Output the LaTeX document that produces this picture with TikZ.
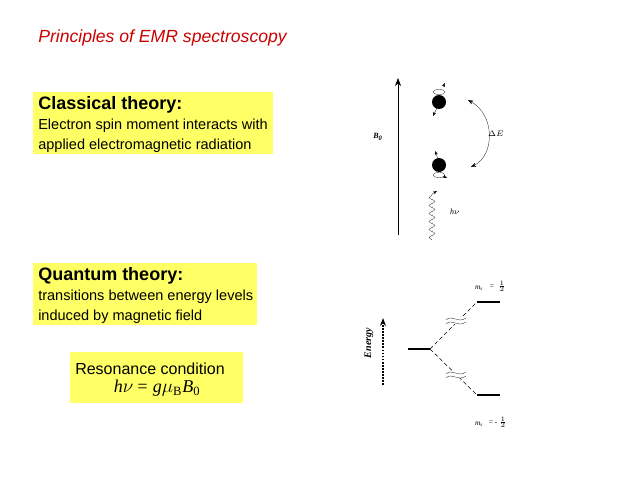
\documentclass[tikz,border=0pt]{standalone}
\usepackage{fontspec}
\setsansfont{Liberation Sans}
\setmainfont{Liberation Serif}
\usetikzlibrary{decorations.pathmorphing,arrows.meta}
\definecolor{ybox}{HTML}{FFFF66}
\definecolor{ttl}{HTML}{CC0000}
\begin{document}
\begin{tikzpicture}[x=0.75pt,y=-0.75pt,
  lvl/.style={line width=1.2pt},
  dsh/.style={densely dashed,thin},
  sm/.style={font=\fontsize{5.5}{6}\selectfont,inner sep=0.5pt},
  ball/.style={circle,fill=black,minimum size=10.5pt,inner sep=0pt}]
\useasboundingbox (0,0) rectangle (638,478);
\node[anchor=west,inner sep=0pt,text=ttl,font=\sffamily\itshape\fontsize{13.2}{15}\selectfont] (title) at (38,38) {Principles of EMR spectroscopy};
% classical
\fill[ybox] (33,92) rectangle (273,154);
\node[anchor=north west,align=left,inner sep=0pt,font=\sffamily\fontsize{10.9}{15}\selectfont] (cl) at (38,96)
 {{\bfseries\fontsize{13.5}{16}\selectfont Classical theory:}\\Electron spin moment interacts with\\applied electromagnetic radiation};
% quantum
\fill[ybox] (33,263) rectangle (257,325);
\node[anchor=north west,align=left,inner sep=0pt,font=\sffamily\fontsize{10.9}{15}\selectfont] (qu) at (38,267)
 {{\bfseries\fontsize{13.5}{16}\selectfont Quantum theory:}\\transitions between energy levels\\induced by magnetic field};
% resonance
\fill[ybox] (70,352) rectangle (243,403);
\node[font=\sffamily\fontsize{12}{14}\selectfont] (rc) at (150,369) {Resonance condition};
\node[font=\fontsize{13.5}{15}\selectfont\itshape] (eq) at (157,388) {h$\nu$\,= g$\mu_{\mathrm{B}}$B\textsubscript{\upshape 0}};
% classical picture
\draw[-{Stealth[length=6pt]},thin] (398,235) -- (398,78);
\node[font=\fontsize{6}{7}\selectfont\bfseries\itshape] (b0) at (378,137) {B\textsubscript{0}};
\node[ball] (u) at (439,102) {};
\node[ball] (d) at (439,165) {};
\draw[very thin] (439,92) ellipse (6 and 2.5);
\draw[-{Stealth[length=3pt]},very thin] (443,87) -- (445,83);
\draw[-{Stealth[length=3pt]},very thin] (437,108) -- (433,116);
\draw[very thin] (439,175) ellipse (6 and 2.5);
\draw[-{Stealth[length=3pt]},very thin] (438,159) -- (435,151);
\draw[-{Stealth[length=3pt]},very thin] (443,176) -- (447,178);
\coordinate (a1) at (468,100); \coordinate (a2) at (471,167);
\draw[{Stealth[length=4pt]}-{Stealth[length=4pt]},very thin] (a1) .. controls (495,115) and (495,155) .. (a2);
\node[font=\fontsize{6}{7}\selectfont\itshape] (de) at (496,134) {$\Delta E$};
\coordinate (w1) at (432,240); \coordinate (w2) at (432,194);
\draw[very thin,decorate,decoration={snake,amplitude=2.2pt,segment length=6pt}] (w1) -- (w2);
\draw[-{Stealth[length=3pt]},very thin] (w2) -- (437,191);
\node[font=\fontsize{6}{7}\selectfont\itshape] (hv) at (455,212) {h$\nu$};
% quantum picture
\draw[densely dotted,line width=1.3pt,-{Stealth[length=6pt]}] (383,385) -- (383,318);
\node[rotate=90,font=\fontsize{7.5}{8}\selectfont\bfseries\itshape] (en) at (369,343) {Energy};
\coordinate (c0) at (408,349); \coordinate (c1) at (430,349);
\draw[lvl] (c0) -- (c1);
\coordinate (u0) at (477,302); \coordinate (u1) at (500,302);
\coordinate (l0) at (477,395); \coordinate (l1) at (500,395);
\draw[lvl] (u0) -- (u1); \draw[lvl] (l0) -- (l1);
\draw[dsh] (c1) -- (u0); \draw[dsh] (c1) -- (l0);
\foreach \yy in {321,375}{
 \fill[white] (446,\yy-3) rectangle (466,\yy+3);
 \draw[very thin] (446,\yy-1) .. controls (452,\yy-7) and (458,\yy+3) .. (466,\yy-3);
 \draw[very thin] (446,\yy+3) .. controls (452,\yy-3) and (458,\yy+7) .. (466,\yy+1);}
\node[sm] (m1) at (479,288) {\itshape m\textsubscript{s}};
\node[sm] (e1) at (492,287) {=};
\node[sm] (f1) at (502,286) {$\frac{1}{2}$};
\node[sm] (m2) at (479,424) {\itshape m\textsubscript{s}};
\node[sm] (e2) at (493,423) {= -};
\node[sm] (f2) at (503,422) {$\frac{1}{2}$};
\end{tikzpicture}
\end{document}
